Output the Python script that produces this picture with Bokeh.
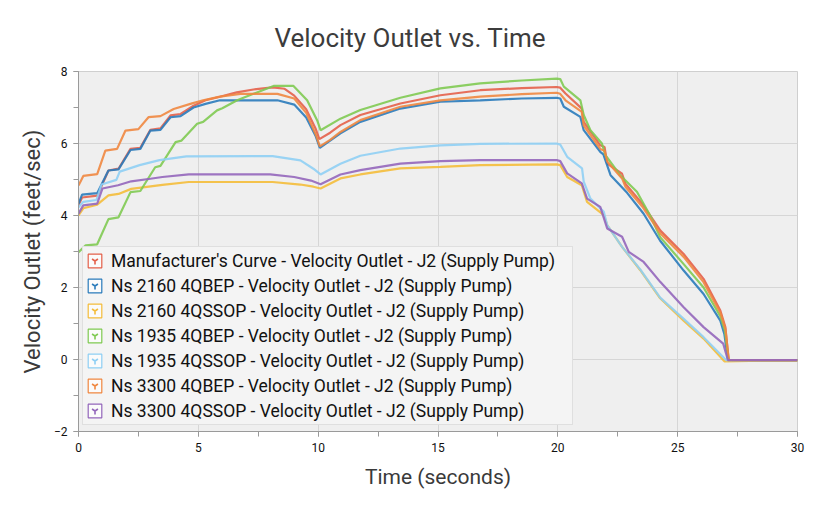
from bokeh.plotting import figure
from bokeh.models import Legend, LegendItem, SingleIntervalTicker, Range1d
from bokeh.embed import file_html
from bokeh.resources import INLINE

# ---------------- data ----------------
names = [
    "Manufacturer's Curve - Velocity Outlet - J2 (Supply Pump)",
    "Ns 2160 4QBEP - Velocity Outlet - J2 (Supply Pump)",
    "Ns 2160 4QSSOP - Velocity Outlet - J2 (Supply Pump)",
    "Ns 1935 4QBEP - Velocity Outlet - J2 (Supply Pump)",
    "Ns 1935 4QSSOP - Velocity Outlet - J2 (Supply Pump)",
    "Ns 3300 4QBEP - Velocity Outlet - J2 (Supply Pump)",
    "Ns 3300 4QSSOP - Velocity Outlet - J2 (Supply Pump)",
]
colors = ["#e4604a", "#2a7bbb", "#f4bc3a", "#7fca52", "#8fcff4", "#f08740", "#9366bb"]

t_mfr = [0, 0.15, 0.78, 1.25, 1.67, 2.17, 2.58, 3.0, 3.42, 3.84, 4.26, 4.8, 5.3, 5.9, 6.6, 7.3,
         8.1, 8.6, 9.0, 9.5, 9.9, 10.05, 10.5, 10.93, 11.76, 13.43, 15.1, 16.76, 18.5, 19.95,
         20.1, 20.32, 21.0, 21.08, 21.77, 21.95, 22.06, 22.68, 22.82, 23.52, 24.28, 25.25,
         26.08, 26.78, 26.99, 27.13, 28.5, 30]
v_mfr = [4.28, 4.5, 4.55, 5.25, 5.3, 5.85, 5.88, 6.38, 6.42, 6.78, 6.82, 7.05, 7.2, 7.3, 7.42, 7.5,
         7.56, 7.52, 7.33, 6.95, 6.4, 6.12, 6.3, 6.51, 6.79, 7.11, 7.34, 7.48, 7.54, 7.57,
         7.55, 7.39, 6.97, 6.6, 5.95, 5.9, 5.44, 5.16, 4.88, 4.33, 3.58, 2.93,
         2.24, 1.36, 0.9, -0.01, -0.02, -0.02]

t_2160bep = [0, 0.15, 0.78, 1.25, 1.67, 2.17, 2.58, 3.0, 3.42, 3.84, 4.26, 4.8, 5.3, 5.9, 7.0, 8.3,
             9.0, 9.5, 9.9, 10.07, 10.5, 10.93, 11.76, 13.43, 15.1, 16.76, 18.5, 19.95, 20.1, 20.25,
             20.94, 21.08, 21.77, 21.9, 22.2, 22.89, 23.58, 24.27, 25.25, 26.08, 26.78, 26.95,
             27.1, 28.5, 30]
v_2160bep = [4.32, 4.58, 4.62, 5.25, 5.28, 5.82, 5.85, 6.36, 6.38, 6.73, 6.76, 7.0, 7.1, 7.2, 7.2, 7.2,
             7.08, 6.72, 6.2, 5.88, 6.08, 6.28, 6.6, 6.97, 7.16, 7.2, 7.25, 7.27, 7.25, 7.02,
             6.74, 6.37, 5.77, 5.7, 5.12, 4.63, 4.05, 3.3, 2.47, 1.82, 1.08, 0.7,
             -0.02, -0.02, -0.02]

t_2160ssop = [0, 0.2, 0.78, 1.25, 1.67, 2.2, 3.5, 4.6, 8.1, 9.26, 9.8, 10.1, 10.93, 11.76, 13.43,
              15.1, 16.76, 19.95, 20.1, 20.39, 21.0, 21.22, 21.92, 22.06, 22.68, 23.44, 24.27,
              25.25, 26.08, 26.95, 28.5, 30]
v_2160ssop = [4.0, 4.2, 4.3, 4.56, 4.6, 4.74, 4.85, 4.93, 4.93, 4.86, 4.8, 4.75, 5.03, 5.14, 5.31,
              5.35, 5.4, 5.42, 5.4, 5.07, 4.84, 4.38, 4.01, 3.73, 3.13, 2.48, 1.7,
              1.08, 0.58, -0.05, -0.03, -0.03]

t_1935bep = [0, 0.3, 0.78, 1.25, 1.67, 2.17, 2.58, 3.2, 3.42, 4.05, 4.3, 4.95, 5.2, 5.78, 6.0, 6.62,
             7.3, 8.14, 8.97, 9.54, 9.96, 10.1, 10.93, 11.76, 13.43, 15.1, 16.76, 18.5, 19.95, 20.1,
             20.25, 20.94, 21.08, 21.36, 21.84, 21.98, 22.6, 23.3, 23.85, 24.27, 25.25, 26.08,
             26.78, 26.97, 27.12, 28.5, 30]
v_1935bep = [2.98, 3.17, 3.2, 3.9, 3.95, 4.65, 4.68, 5.34, 5.38, 6.04, 6.08, 6.55, 6.6, 6.92, 6.98, 7.2,
             7.38, 7.6, 7.6, 7.2, 6.64, 6.37, 6.69, 6.93, 7.27, 7.53, 7.67, 7.75, 7.8, 7.79,
             7.58, 7.2, 6.79, 6.37, 6.0, 5.68, 5.12, 4.66, 4.0, 3.4, 2.65, 2.0,
             1.2, 0.8, -0.01, -0.02, -0.02]

t_1935ssop = [0, 0.2, 0.75, 0.96, 1.58, 1.72, 2.55, 3.38, 4.5, 8.1, 9.26, 9.8, 10.1, 10.93, 11.76,
              13.43, 15.1, 16.76, 19.95, 20.1, 20.39, 21.01, 21.08, 21.36, 21.92, 22.06, 22.68,
              23.44, 24.27, 25.25, 26.08, 27.03, 28.5, 30]
v_1935ssop = [4.23, 4.38, 4.43, 4.86, 4.99, 5.22, 5.4, 5.54, 5.64, 5.65, 5.53, 5.3, 5.14, 5.44, 5.66,
              5.86, 5.95, 5.99, 6.0, 5.97, 5.63, 5.31, 4.94, 4.47, 4.1, 3.73, 3.13,
              2.5, 1.72, 1.13, 0.62, -0.02, -0.02, -0.02]

t_3300bep = [0, 0.2, 0.78, 1.12, 1.61, 1.96, 2.5, 2.92, 3.42, 3.97, 4.67, 5.2, 5.9, 6.75, 8.3, 9.0,
             9.5, 9.9, 10.07, 10.5, 10.93, 11.76, 13.43, 15.1, 16.76, 18.5, 19.95, 20.1, 20.32, 21.0,
             21.08, 21.77, 21.95, 22.06, 22.68, 22.82, 23.52, 24.28, 25.25, 26.08, 26.78, 26.99,
             27.13, 28.5, 30]
v_3300bep = [4.83, 5.1, 5.15, 5.8, 5.85, 6.36, 6.4, 6.73, 6.76, 6.96, 7.1, 7.2, 7.3, 7.38, 7.38, 7.25,
             6.85, 6.25, 5.92, 6.1, 6.32, 6.65, 7.02, 7.2, 7.3, 7.37, 7.41, 7.38, 7.2, 6.88,
             6.5, 5.85, 5.8, 5.5, 5.03, 4.8, 4.25, 3.5, 2.85, 2.15, 1.3, 0.85,
             -0.01, -0.02, -0.02]

t_3300ssop = [0, 0.2, 0.78, 1.0, 1.65, 2.2, 3.0, 3.5, 4.6, 8.0, 9.0, 9.7, 10.1, 10.93, 11.76, 13.43,
              15.1, 16.76, 19.95, 20.1, 20.39, 21.0, 21.22, 21.77, 22.06, 22.68, 22.96, 23.58,
              24.28, 25.25, 26.08, 26.9, 27.1, 28.5, 30]
v_3300ssop = [4.05, 4.28, 4.33, 4.75, 4.84, 4.95, 5.02, 5.07, 5.14, 5.14, 5.07, 4.97, 4.87, 5.14, 5.26, 5.44,
              5.51, 5.54, 5.54, 5.51, 5.17, 4.89, 4.47, 4.24, 3.64, 3.41, 2.99, 2.71,
              2.15, 1.45, 0.9, 0.44, -0.02, -0.02, -0.02]

x_ticks_interval = 5
y_ticks_interval = 2

series = [(t_mfr, v_mfr), (t_2160bep, v_2160bep), (t_2160ssop, v_2160ssop),
          (t_1935bep, v_1935bep), (t_1935ssop, v_1935ssop), (t_3300bep, v_3300bep),
          (t_3300ssop, v_3300ssop)]

FONT = "Roboto"

p = figure(width=828, height=508, output_backend="svg", toolbar_location=None,
           x_range=Range1d(0, 30), y_range=Range1d(-2, 8),
           min_border_left=78, min_border_right=31, min_border_top=71, min_border_bottom=77,
           background_fill_color="#efefef", border_fill_color="white",
           title="Velocity Outlet vs. Time")

p.title.align = "left"
p.title.offset = 196
p.title.text_font = FONT
p.title.text_font_size = "26px"
p.title.text_font_style = "normal"
p.title.text_color = "#3c3c3c"
p.title.standoff = 38

p.outline_line_color = "#cfcfcf"

# axes / grid
p.xaxis.ticker = SingleIntervalTicker(interval=x_ticks_interval, num_minor_ticks=2)
p.yaxis.ticker = SingleIntervalTicker(interval=y_ticks_interval, num_minor_ticks=2)
for ax in (p.xaxis, p.yaxis):
    ax.axis_line_color = "#9a9a9a"
    ax.major_tick_line_color = "#9a9a9a"
    ax.minor_tick_line_color = "#9a9a9a"
    ax.major_tick_in = 0
    ax.major_tick_out = 5
    ax.minor_tick_in = 0
    ax.minor_tick_out = 5
    ax.major_label_text_font = FONT
    ax.major_label_text_font_size = "12px"
    ax.major_label_text_color = "#111111"
    ax.axis_label_text_font = FONT
    ax.axis_label_text_font_style = "normal"
    ax.axis_label_text_color = "#3a3a3a"
p.xaxis.axis_label_text_font_size = "21px"
p.yaxis.axis_label_text_font_size = "22px"
p.xaxis.axis_label = "Time (seconds)"
p.yaxis.axis_label = "Velocity Outlet (feet/sec)"
p.xaxis.major_label_standoff = 6
p.yaxis.major_label_standoff = 6
p.xaxis.axis_label_standoff = 10
p.yaxis.axis_label_standoff = 6
p.xgrid.grid_line_color = "#d6d6d6"
p.ygrid.grid_line_color = "#d6d6d6"

items = []
for (t, v), name, c in zip(series, names, colors):
    p.line(t, v, line_color=c, line_width=2.2, line_alpha=0.9)
    box = p.rect(x=[float("nan")], y=[float("nan")], width=1, height=1,
                 fill_color="#fbfbfb", line_color=c, line_width=1.2)
    chk = p.scatter(x=[float("nan")], y=[float("nan")], marker="y",
                    line_color=c, line_width=1.6, size=6)
    items.append(LegendItem(label=name, renderers=[box, chk]))

legend = Legend(items=items, location=(4, 6), orientation="vertical",
                padding=3, spacing=4, margin=0,
                glyph_width=17, glyph_height=17, label_height=21, label_width=458,
                label_standoff=8, label_text_font=FONT, label_text_font_size="17.5px",
                label_text_color="#111111",
                background_fill_color="#f4f4f4", background_fill_alpha=1.0,
                border_line_color="#c9c9c9", border_line_width=1)
p.add_layout(legend, "center")

open("out.html", "w").write(file_html(p, INLINE))
